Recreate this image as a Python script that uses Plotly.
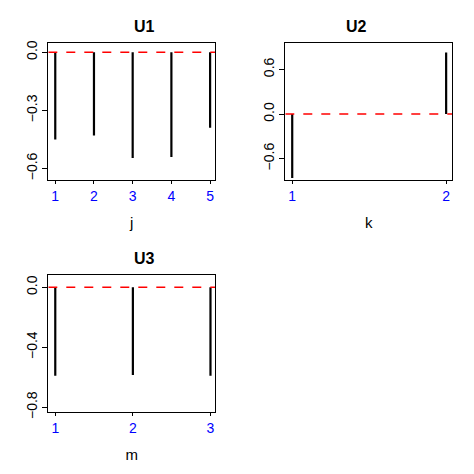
import plotly.graph_objects as go

u1_x = [1, 2, 3, 4, 5]
u1_y = [-0.45, -0.43, -0.545, -0.54, -0.39]
u2_x = [1, 2]
u2_y = [-0.86, 0.83]
u3_x = [1, 2, 3]
u3_y = [-0.59, -0.585, -0.59]

panels = [
    ("U1", "j", u1_x, u1_y, [0.82, 5.13], [-0.66, 0.05], [0.0, -0.3, -0.6], ["0.0", "\u22120.3", "\u22120.6"], [0.085, 0.437], [0.634, 0.930]),
    ("U2", "k", u2_x, u2_y, [0.955, 2.039], [-0.89, 0.963], [0.6, 0.0, -0.6], ["0.6", "0.0", "\u22120.6"], [0.585, 0.937], [0.634, 0.930]),
    ("U3", "m", u3_x, u3_y, [0.91, 3.06], [-0.833, 0.085], [0.0, -0.4, -0.8], ["0.0", "\u22120.4", "\u22120.8"], [0.085, 0.437], [0.135, 0.431]),
]

fig = go.Figure()
for i, (title, xl, xs, ys, xr, yr, yt, ytt, xd, yd) in enumerate(panels):
    n = "" if i == 0 else str(i + 1)
    lx, ly = [], []
    for x, y in zip(xs, ys):
        lx += [x, x, None]
        ly += [0, y, None]
    fig.add_trace(go.Scatter(x=lx, y=ly, mode="lines", line=dict(color="black", width=2.2),
                             xaxis="x" + n, yaxis="y" + n, showlegend=False))
    fig.add_trace(go.Scatter(x=xr, y=[0, 0], mode="lines", line=dict(color="red", width=1.5, dash="dash"),
                             xaxis="x" + n, yaxis="y" + n, showlegend=False))
    fig.layout["xaxis" + n] = dict(domain=xd, range=xr, anchor="y" + n, tickvals=xs,
                                   ticktext=[str(v) for v in xs], tickfont=dict(color="blue", size=14),
                                   showline=True, mirror=True, linecolor="black", ticks="outside",
                                   ticklen=3, tickcolor="black", showgrid=False, zeroline=False,
                                   title=dict(text=xl, font=dict(size=15, color="black"), standoff=14))
    fig.layout["yaxis" + n] = dict(domain=yd, range=yr, anchor="x" + n, tickvals=yt, ticktext=ytt,
                                   tickangle=-90, tickfont=dict(size=14, color="black"),
                                   showline=True, mirror=True, linecolor="black", ticks="outside",
                                   ticklen=5, tickcolor="black", showgrid=False, zeroline=False)
    fig.add_annotation(text="<b>" + title + "</b>", x=(xd[0] + xd[1]) / 2, y=yd[1], xref="paper",
                       yref="paper", yanchor="bottom", yshift=6, showarrow=False,
                       font=dict(size=16, color="black"))

fig.update_layout(width=474, height=474, margin=dict(l=0, r=0, t=0, b=0),
                  plot_bgcolor="white", paper_bgcolor="white",
                  font=dict(family="Liberation Sans, Arial, sans-serif"))
fig.write_html("out.html")
